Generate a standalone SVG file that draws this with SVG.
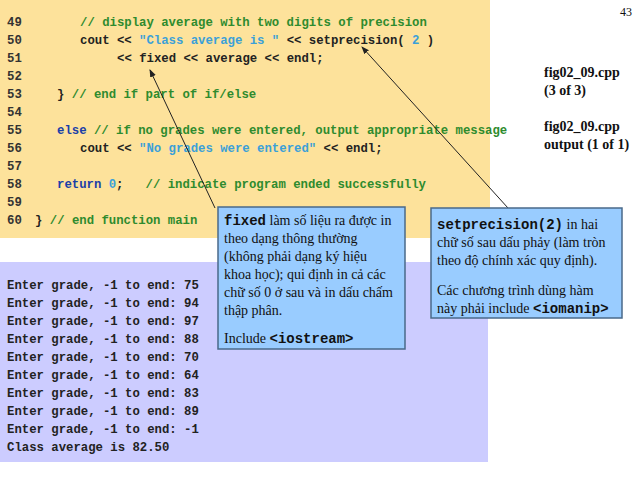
<svg xmlns="http://www.w3.org/2000/svg" width="638" height="478" viewBox="0 0 638 478">
<style>
.c{font-family:"Liberation Mono",monospace;font-weight:bold;font-size:12.3px;fill:#222;white-space:pre}
.n{fill:#333}.g{fill:#2e8b2e}.b{fill:#1a3fa8}.s{fill:#3ba0d8}
.t{font-family:"Liberation Serif",serif;font-size:14px;fill:#111}
.tb{font-family:"Liberation Mono",monospace;font-weight:bold;font-size:14px}
.r{font-family:"Liberation Serif",serif;font-weight:bold;font-size:14px;fill:#111}
.box{fill:#99ccff;stroke:#4a6a8a;stroke-width:1.5}
</style>
<defs><marker id="a" markerWidth="8" markerHeight="8" refX="7" refY="4" orient="auto"><path d="M0,1 L8,4 L0,7z" fill="#222"/></marker></defs>
<rect width="638" height="478" fill="#fff"/>
<rect x="0" y="0" width="490" height="238" fill="#fde29b"/>
<rect x="0" y="262" width="488" height="200" fill="#ccccff"/>
<g id="code">
<text class="c" y="26"><tspan class="n" x="7">49</tspan><tspan class="g" x="80">// display average with two digits of precision</tspan></text>
<text class="c" y="44"><tspan class="n" x="7">50</tspan><tspan x="80">cout &lt;&lt; </tspan><tspan class="s">"Class average is "</tspan><tspan> &lt;&lt; setprecision( </tspan><tspan class="s">2</tspan><tspan> )</tspan></text>
<text class="c" y="62"><tspan class="n" x="7">51</tspan><tspan x="117">&lt;&lt; fixed &lt;&lt; average &lt;&lt; endl;</tspan></text>
<text class="c" y="80"><tspan class="n" x="7">52</tspan></text>
<text class="c" y="98"><tspan class="n" x="7">53</tspan><tspan x="57">} </tspan><tspan class="g">// end if part of if/else</tspan></text>
<text class="c" y="116"><tspan class="n" x="7">54</tspan></text>
<text class="c" y="134"><tspan class="n" x="7">55</tspan><tspan class="b" x="57">else</tspan><tspan class="g"> // if no grades were entered, output appropriate message</tspan></text>
<text class="c" y="152"><tspan class="n" x="7">56</tspan><tspan x="80">cout &lt;&lt; </tspan><tspan class="s">"No grades were entered"</tspan><tspan> &lt;&lt; endl;</tspan></text>
<text class="c" y="170"><tspan class="n" x="7">57</tspan></text>
<text class="c" y="188"><tspan class="n" x="7">58</tspan><tspan class="b" x="57">return </tspan><tspan class="s">0</tspan><tspan>;   </tspan><tspan class="g">// indicate program ended successfully</tspan></text>
<text class="c" y="206"><tspan class="n" x="7">59</tspan></text>
<text class="c" y="224"><tspan class="n" x="7">60</tspan><tspan x="35">} </tspan><tspan class="g">// end function main</tspan></text>
</g>
<g id="output">
<text class="c" x="7" y="289">Enter grade, -1 to end: 75</text>
<text class="c" x="7" y="307">Enter grade, -1 to end: 94</text>
<text class="c" x="7" y="325">Enter grade, -1 to end: 97</text>
<text class="c" x="7" y="343">Enter grade, -1 to end: 88</text>
<text class="c" x="7" y="361">Enter grade, -1 to end: 70</text>
<text class="c" x="7" y="379">Enter grade, -1 to end: 64</text>
<text class="c" x="7" y="397">Enter grade, -1 to end: 83</text>
<text class="c" x="7" y="415">Enter grade, -1 to end: 89</text>
<text class="c" x="7" y="433">Enter grade, -1 to end: -1</text>
<text class="c" x="7" y="451">Class average is 82.50</text>
</g>
<g id="connectors" stroke="#222" stroke-width="1" fill="none">
<line x1="215" y1="208" x2="150" y2="70" marker-end="url(#a)"/>
<line x1="508" y1="208" x2="362" y2="47" marker-end="url(#a)"/>
</g>
<g id="callout-fixed">
<rect class="box" x="218" y="207" width="187" height="142"/>
<text class="t" x="224" y="225"><tspan class="tb">fixed</tspan> làm số liệu ra được in</text>
<text class="t" x="224" y="243">theo dạng thông thường</text>
<text class="t" x="224" y="261">(không phải dạng ký hiệu</text>
<text class="t" x="224" y="279">khoa học); qui định in cả các</text>
<text class="t" x="224" y="297">chữ số 0 ở sau và in dấu chấm</text>
<text class="t" x="224" y="315">thập phân.</text>
<text class="t" x="224" y="343">Include <tspan class="tb">&lt;iostream&gt;</tspan></text>
</g>
<g id="callout-setprecision">
<rect class="box" x="431" y="208" width="191" height="110"/>
<text class="t" x="437" y="229"><tspan class="tb">setprecision(2)</tspan> in hai</text>
<text class="t" x="437" y="247">chữ số sau dấu phảy (làm tròn</text>
<text class="t" x="437" y="265">theo độ chính xác quy định).</text>
<text class="t" x="437" y="295">Các chương trình dùng hàm</text>
<text class="t" x="437" y="313">này phải include <tspan class="tb">&lt;iomanip&gt;</tspan></text>
</g>
<g id="labels">
<text class="r" x="620" y="16" style="font-weight:normal;font-size:12px">43</text>
<text class="r" x="544" y="77">fig02_09.cpp</text>
<text class="r" x="544" y="95">(3 of 3)</text>
<text class="r" x="544" y="131">fig02_09.cpp</text>
<text class="r" x="544" y="149">output (1 of 1)</text>
</g>
</svg>
